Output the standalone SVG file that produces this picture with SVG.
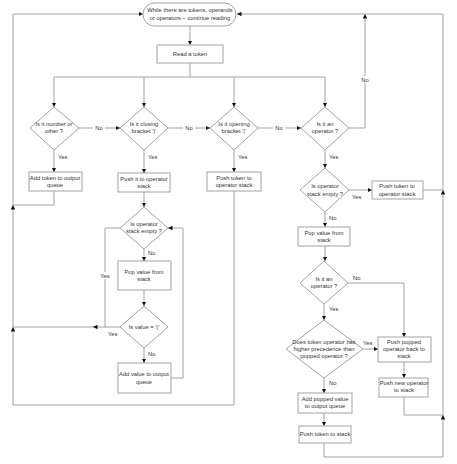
<svg xmlns="http://www.w3.org/2000/svg" width="457" height="464" viewBox="0 0 457 464">
<defs>
<marker id="ah" viewBox="0 0 10 10" refX="10" refY="5" markerWidth="4.5" markerHeight="4.5" markerUnits="userSpaceOnUse" orient="auto">
<path d="M0,0 L10,5 L0,10 Z" fill="#111"/>
</marker>
<style>
.s{fill:#fff;stroke:#a3a3a3;stroke-width:1}
.c{fill:none;stroke:#a3a3a3;stroke-width:1}
.a{marker-end:url(#ah)}
text{font-family:"Liberation Sans",Arial,sans-serif;font-size:5.8px;fill:#333;text-anchor:middle}
.l{text-anchor:start}
.bg{fill:#fff}
</style>
</defs>
<rect width="457" height="464" fill="#fff"/>
<g id="connectors">
<path class="c a" d="M190,26 V45"/>
<path class="c" d="M190,63 V77 M54,77 H325"/>
<path class="c a" d="M54,77 V107"/>
<path class="c a" d="M144,77 V107"/>
<path class="c a" d="M234,77 V107"/>
<path class="c a" d="M325,77 V107"/>
<path class="c a" d="M79,128 H120"/>
<path class="c a" d="M168,128 H210"/>
<path class="c a" d="M258,128 H301"/>
<path class="c a" d="M349,128 H365 V14"/>
<path class="c a" d="M54,150 V172"/>
<path class="c a" d="M144,150 V173"/>
<path class="c a" d="M234,150 V172"/>
<path class="c" d="M54,191 V205 H13"/>
<path class="c a" d="M234,191 V405 H13 V327"/>
<path class="c a" d="M13,327 V205"/>
<path class="c a" d="M13,205 V14 H143"/>
<path class="c a" d="M144,192 V207"/>
<path class="c" d="M120,228 H105 V327"/>
<path class="c a" d="M144,249 V261"/>
<path class="c a" d="M144,290 V306"/>
<path class="c a" d="M120,327 H93"/>
<path class="c" d="M93,327 H13"/>
<path class="c a" d="M144,348 V363"/>
<path class="c a" d="M171,378 H183 V228 H168"/>
<path class="c a" d="M325,150 V168"/>
<path class="c a" d="M349,190 H372"/>
<path class="c" d="M423,190 H443"/>
<path class="c a" d="M325,212 V227"/>
<path class="c a" d="M325,246 V261"/>
<path class="c a" d="M348,283 H404 V337"/>
<path class="c a" d="M324,304 V320"/>
<path class="c a" d="M363,349 H378"/>
<path class="c a" d="M404,362 V378"/>
<path class="c" d="M404,397 V415 H443"/>
<path class="c a" d="M324,378 V393"/>
<path class="c a" d="M324,413 V426"/>
<path class="c a" d="M324,443 V457 H443 V415"/>
<path class="c a" d="M443,415 V190"/>
<path class="c a" d="M443,190 V14 H237"/>
<rect class="bg" x="360" y="76" width="10" height="7"/>
<text x="365" y="82">No</text>
<rect class="bg" x="93" y="125" width="12" height="7"/>
<text x="99" y="130">No</text>
<rect class="bg" x="183" y="125" width="12" height="7"/>
<text x="189" y="130">No</text>
<rect class="bg" x="273" y="125" width="12" height="7"/>
<text x="279" y="130">No</text>
<text class="l" x="58" y="159">Yes</text>
<text class="l" x="148" y="159">Yes</text>
<text class="l" x="238" y="159">Yes</text>
<rect class="bg" x="99" y="272" width="12" height="7"/>
<text x="105" y="278">Yes</text>
<text class="l" x="148" y="255">No</text>
<text class="l" x="108" y="336">Yes</text>
<text class="l" x="148" y="356">No</text>
<text class="l" x="329" y="159">Yes</text>
<text class="l" x="352" y="199">Yes</text>
<text class="l" x="329" y="220">No</text>
<text class="l" x="353" y="280">No</text>
<text class="l" x="329" y="311">Yes</text>
<text class="l" x="363" y="345">Yes</text>
<text class="l" x="329" y="385">No</text>
</g>
<g id="start">
<rect class="s" x="143" y="3" width="93" height="23" rx="11.5"/>
<text x="190" y="12">While there are tokens, operands</text>
<text x="190" y="20">or operators – continue reading</text>
</g>
<g id="read">
<rect class="s" x="157" y="45" width="66" height="18"/>
<text x="190" y="56">Read a token</text>
</g>
<g id="d-number">
<polygon class="s" points="54,107 79,128 54,150 30,128"/>
<text x="54" y="126">Is it number or</text>
<text x="54" y="133">other ?</text>
</g>
<g id="d-closing">
<polygon class="s" points="144,107 168,128 144,150 120,128"/>
<text x="144" y="126">Is it closing</text>
<text x="144" y="133">bracket ')'</text>
</g>
<g id="d-opening">
<polygon class="s" points="234,107 258,128 234,150 210,128"/>
<text x="234" y="126">Is it opening</text>
<text x="234" y="133">bracket '('</text>
</g>
<g id="d-operator">
<polygon class="s" points="325,107 349,128 325,150 301,128"/>
<text x="325" y="126">Is it an</text>
<text x="325" y="133">operator ?</text>
</g>
<g id="b-addtoken">
<rect class="s" x="29" y="172" width="53" height="19"/>
<text x="55" y="180">Add token to output</text>
<text x="55" y="187">queue</text>
</g>
<g id="b-pushit">
<rect class="s" x="118" y="173" width="52" height="19"/>
<text x="144" y="181">Push it to operator</text>
<text x="144" y="188">stack</text>
</g>
<g id="b-pushtoken1">
<rect class="s" x="207" y="172" width="54" height="19"/>
<text x="234" y="180">Push token to</text>
<text x="234" y="187">operator stack</text>
</g>
<g id="d-empty1">
<polygon class="s" points="144,207 168,228 144,249 120,228"/>
<text x="144" y="226">Is operator</text>
<text x="144" y="233">stack empty ?</text>
</g>
<g id="b-pop1">
<rect class="s" x="118" y="261" width="53" height="29"/>
<text x="144" y="274">Pop value from</text>
<text x="144" y="281">stack</text>
</g>
<g id="d-value">
<polygon class="s" points="144,306 168,327 144,348 120,327"/>
<text x="144" y="329">Is value = '('</text>
</g>
<g id="b-addvalue">
<rect class="s" x="118" y="363" width="53" height="30"/>
<text x="144" y="376">Add value to output</text>
<text x="144" y="384">queue</text>
</g>
<g id="d-empty2">
<polygon class="s" points="325,168 349,190 325,212 300,190"/>
<text x="325" y="188">Is operator</text>
<text x="325" y="196">stack empty ?</text>
</g>
<g id="b-pushtoken2">
<rect class="s" x="372" y="181" width="51" height="18"/>
<text x="397" y="188">Push token to</text>
<text x="397" y="196">operator stack</text>
</g>
<g id="b-pop2">
<rect class="s" x="298" y="227" width="52" height="19"/>
<text x="324" y="235">Pop value from</text>
<text x="324" y="242">stack</text>
</g>
<g id="d-operator2">
<polygon class="s" points="324,261 348,283 324,304 300,283"/>
<text x="324" y="281">Is it an</text>
<text x="324" y="288">operator ?</text>
</g>
<g id="d-precedence">
<polygon class="s" points="324,320 363,349 324,378 286,349"/>
<text x="324" y="344">Does token operator has</text>
<text x="324" y="351">higher precedence than</text>
<text x="324" y="358">popped operator ?</text>
</g>
<g id="b-pushback">
<rect class="s" x="378" y="337" width="53" height="25"/>
<text x="404" y="344">Push popped</text>
<text x="404" y="351">operator back to</text>
<text x="404" y="358">stack</text>
</g>
<g id="b-pushnew">
<rect class="s" x="379" y="378" width="49" height="19"/>
<text x="404" y="385">Push new operator</text>
<text x="404" y="392">to stack</text>
</g>
<g id="b-addpopped">
<rect class="s" x="298" y="393" width="54" height="20"/>
<text x="325" y="401">Add popped value</text>
<text x="325" y="408">to output queue</text>
</g>
<g id="b-pushtoken3">
<rect class="s" x="299" y="426" width="52" height="17"/>
<text x="325" y="436">Push token to stack</text>
</g>
</svg>
